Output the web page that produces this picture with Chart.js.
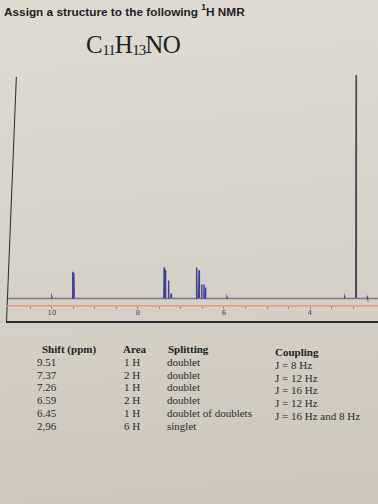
<!DOCTYPE html>
<html>
<head>
<meta charset="utf-8">
<script src="https://cdn.jsdelivr.net/npm/chart.js@4/dist/chart.umd.min.js"></script>
<style>
  html, body { margin: 0; padding: 0; }
  body {
    width: 378px; height: 504px; overflow: hidden; position: relative;
    background: linear-gradient(175deg, #dfdbd3 0%, #d8d3c9 45%, #cdc6b9 100%);
  }
  .title {
    position: absolute; left: 4px; top: 3px;
    font: bold 11.8px "Liberation Sans", Arial, sans-serif; color: #1e1e1e;
  }
  .title sup { font-size: 8.5px; position: relative; top: -1px; }
  .formula {
    position: absolute; left: 86px; top: 31px;
    font: 25px "Liberation Serif", "Times New Roman", serif; color: #1e1e1e;
    letter-spacing: -0.5px;
  }
  .formula sub { font-size: 15px; vertical-align: -2px; letter-spacing: -1px; }
  .vline {
    position: absolute; left: 6px; top: 77px; width: 0; height: 245px;
    border-left: 1.6px solid #2a2a2a;
    transform: skewX(-2.3deg); transform-origin: bottom left;
  }
  .hline {
    position: absolute; left: 6px; top: 321px; width: 372px; height: 0;
    border-top: 2px solid #2a2a2a;
  }
  #spectrum { position: absolute; left: 0; top: 60px; }
  .col {
    position: absolute;
    font: 11px "Liberation Serif", "Times New Roman", serif; color: #2a2a2a;
    line-height: 12.8px; white-space: nowrap;
  }
  .col b { font-weight: bold; color: #1e1e1e; }
</style>
</head>
<body>
<div class="title">Assign a structure to the following <sup>1</sup>H NMR</div>
<div class="formula">C<sub>11</sub>H<sub>13</sub>NO</div>
<div class="vline"></div>
<div class="hline"></div>
<canvas id="spectrum" width="378" height="257"></canvas>
<div id="table"></div>

<script>
// peak lines (ppm, relative height, singlet = 100)
const peakShifts = [10.0, 9.515, 9.49, 7.39, 7.36, 7.29, 7.23, 6.635, 6.58, 6.52, 6.465, 6.43, 5.93, 3.19, 2.93, 2.67];
const peakHeights = [0.5, 12, 11.5, 13.9, 12.6, 8.1, 2.2, 13.9, 12.6, 6.3, 6.3, 4.9, 0.4, 0.5, 100, 0.5];

// axis
const ppmMin = 2.42;
const ppmMax = 11.02;
const axisLabels = [10, 8, 6, 4];

// table of the question
const shiftCol = ['9.51', '7.37', '7.26', '6.59', '6.45', '2,96'];
const areaCol = ['1 H', '2 H', '1 H', '2 H', '1 H', '6 H'];
const splitCol = ['doublet', 'doublet', 'doublet', 'doublet', 'doublet of doublets', 'singlet'];
const couplingCol = ['J = 8 Hz', 'J = 12 Hz', 'J = 16 Hz', 'J = 12 Hz', 'J = 16 Hz and 8 Hz'];

function buildTable() {
    const cols = [
        { head: 'Shift (ppm)', rows: shiftCol, left: 37, top: 343, headLeft: 42 },
        { head: 'Area', rows: areaCol, left: 124, top: 343, headLeft: 123 },
        { head: 'Splitting', rows: splitCol, left: 167, top: 343, headLeft: 168 },
        { head: 'Coupling', rows: couplingCol, left: 275, top: 346, headLeft: 275 }
    ];
    const table = document.getElementById('table');
    cols.forEach(c => {
        const h = document.createElement('div');
        h.className = 'col';
        h.style.left = c.headLeft + 'px';
        h.style.top = c.top + 'px';
        h.innerHTML = '<b>' + c.head + '</b>';
        table.appendChild(h);
        const d = document.createElement('div');
        d.className = 'col';
        d.style.left = c.left + 'px';
        d.style.top = (c.top + 12.8) + 'px';
        d.innerHTML = c.rows.join('<br>');
        table.appendChild(d);
    });
}

// each line is drawn baseline -> top -> baseline
function buildPoints() {
    const hw = 0.008;
    const pts = [{ x: ppmMax, y: 0 }];
    const order = peakShifts.map((s, i) => i).sort((a, b) => peakShifts[b] - peakShifts[a]);
    order.forEach(i => {
        pts.push({ x: peakShifts[i] + hw, y: 0 });
        pts.push({ x: peakShifts[i], y: peakHeights[i] });
        pts.push({ x: peakShifts[i] - hw, y: 0 });
    });
    pts.push({ x: ppmMin, y: 0 });
    return pts;
}

function segColor(ctx) {
    const a = ctx.p0.parsed.y, b = ctx.p1.parsed.y;
    if (a === 0 && b === 0) return '#767a88';
    if (a > 50 || b > 50) return '#4b4a58';
    return '#3c3d96';
}

function renderSpectrum() {
    const ctx = document.getElementById('spectrum').getContext('2d');
    new Chart(ctx, {
        type: 'line',
        data: {
            datasets: [{
                data: buildPoints(),
                borderWidth: 1.4,
                borderColor: '#3c3d96',
                backgroundColor: 'rgba(70, 72, 165, 0.85)',
                fill: 'origin',
                pointRadius: 0,
                tension: 0,
                segment: { borderColor: segColor }
            }]
        },
        options: {
            responsive: false,
            animation: false,
            devicePixelRatio: 1,
            layout: { padding: { left: 8, right: 0, top: 13, bottom: 0 } },
            plugins: { legend: { display: false }, tooltip: { enabled: false } },
            scales: {
                x: {
                    type: 'linear',
                    reverse: true,
                    min: ppmMin,
                    max: ppmMax,
                    afterBuildTicks: axis => {
                        axis.ticks = axis.ticks.filter(t => Math.abs(t.value * 2 - Math.round(t.value * 2)) < 1e-6);
                    },
                    ticks: {
                        stepSize: 0.5,
                        autoSkip: false,
                        maxRotation: 0,
                        padding: 0,
                        color: '#4a4a4a',
                        font: { family: 'DejaVu Sans', size: 7 },
                        callback: v => axisLabels.includes(v) ? String(v) : ''
                    },
                    grid: { drawOnChartArea: false, tickLength: 3, color: '#a07060' },
                    border: { color: '#e29a82', width: 1.5 }
                },
                y: {
                    display: false,
                    min: -3.2,
                    max: 101
                }
            }
        }
    });
}

document.addEventListener('DOMContentLoaded', () => {
    buildTable();
    renderSpectrum();
});
</script>
</body>
</html>
